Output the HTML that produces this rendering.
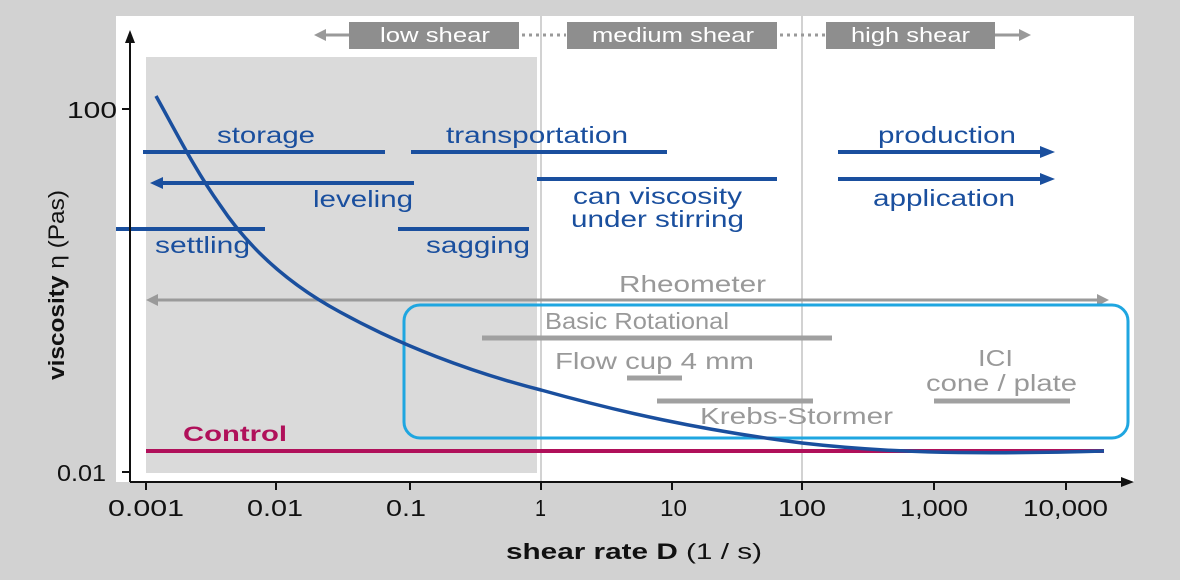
<!DOCTYPE html>
<html><head><meta charset="utf-8"><style>
html,body{margin:0;padding:0;background:#d2d2d2;}
svg{display:block;font-family:"Liberation Sans",sans-serif;}
</style></head><body>
<svg width="1180" height="580" viewBox="0 0 1180 580">
<rect x="0" y="0" width="1180" height="580" fill="#d2d2d2"/>
<rect x="116" y="16" width="1018" height="466" fill="#ffffff"/>
<rect x="146" y="57" width="391" height="416" fill="#dadada"/>
<line x1="541" y1="16" x2="541" y2="482" stroke="#c4c4c4" stroke-width="1.5"/>
<line x1="802" y1="16" x2="802" y2="482" stroke="#c4c4c4" stroke-width="1.5"/>

<line x1="322" y1="35" x2="349" y2="35" stroke="#999" stroke-width="3"/>
<polygon points="314,35 326,29 326,41" fill="#999"/>
<line x1="522" y1="35" x2="566" y2="35" stroke="#999" stroke-width="3" stroke-dasharray="3,4"/>
<line x1="780" y1="35" x2="825" y2="35" stroke="#999" stroke-width="3" stroke-dasharray="3,4"/>
<line x1="995" y1="35" x2="1022" y2="35" stroke="#999" stroke-width="3"/>
<polygon points="1031,35 1019,29 1019,41" fill="#999"/>
<rect x="349" y="22" width="170" height="27" fill="#8e8e8e"/>
<rect x="567" y="22" width="210" height="27" fill="#8e8e8e"/>
<rect x="826" y="22" width="169" height="27" fill="#8e8e8e"/>
<g fill="#fff" font-size="20" lengthAdjust="spacingAndGlyphs">
<text x="380" y="42" textLength="110" lengthAdjust="spacingAndGlyphs">low shear</text>
<text x="592" y="42" textLength="162" lengthAdjust="spacingAndGlyphs">medium shear</text>
<text x="851" y="42" textLength="119" lengthAdjust="spacingAndGlyphs">high shear</text>
</g>

<g stroke="#1a4f9e" stroke-width="4" fill="none">
<line x1="143" y1="152" x2="385" y2="152"/>
<line x1="411" y1="152" x2="667" y2="152"/>
<line x1="160" y1="183" x2="414" y2="183"/>
<line x1="537" y1="179" x2="777" y2="179"/>
<line x1="116" y1="229" x2="265" y2="229"/>
<line x1="398" y1="229" x2="529" y2="229"/>
<line x1="838" y1="152" x2="1042" y2="152"/>
<line x1="838" y1="179" x2="1042" y2="179"/>
</g>
<g fill="#1a4f9e">
<polygon points="150,183 163,177 163,189"/>
<polygon points="1055,152 1040,146 1040,158"/>
<polygon points="1055,179 1040,173 1040,185"/>
</g>
<g fill="#1a4f9e" font-size="23">
<text x="217" y="143" textLength="98" lengthAdjust="spacingAndGlyphs">storage</text>
<text x="446" y="143" textLength="182" lengthAdjust="spacingAndGlyphs">transportation</text>
<text x="313" y="207" textLength="100" lengthAdjust="spacingAndGlyphs">leveling</text>
<text x="573" y="204" textLength="169" lengthAdjust="spacingAndGlyphs">can viscosity</text>
<text x="571" y="227" textLength="173" lengthAdjust="spacingAndGlyphs">under stirring</text>
<text x="155" y="253" textLength="95" lengthAdjust="spacingAndGlyphs">settling</text>
<text x="426" y="253" textLength="104" lengthAdjust="spacingAndGlyphs">sagging</text>
<text x="878" y="143" textLength="138" lengthAdjust="spacingAndGlyphs">production</text>
<text x="873" y="206" textLength="142" lengthAdjust="spacingAndGlyphs">application</text>
</g>

<line x1="155" y1="300" x2="1100" y2="300" stroke="#9a9a9a" stroke-width="3"/>
<polygon points="146,300 158,294 158,306" fill="#9a9a9a"/>
<polygon points="1109,300 1097,294 1097,306" fill="#9a9a9a"/>
<g fill="#999" font-size="23">
<text x="619" y="292" textLength="147" lengthAdjust="spacingAndGlyphs">Rheometer</text>
<text x="545" y="329" textLength="184" lengthAdjust="spacingAndGlyphs">Basic Rotational</text>
<text x="555" y="369" textLength="199" lengthAdjust="spacingAndGlyphs">Flow cup 4 mm</text>
<text x="700" y="424" textLength="193" lengthAdjust="spacingAndGlyphs">Krebs-Stormer</text>
<text x="978" y="366" textLength="35" lengthAdjust="spacingAndGlyphs">ICI</text>
<text x="926" y="391" textLength="151" lengthAdjust="spacingAndGlyphs">cone / plate</text>
</g>
<g stroke="#a0a0a0" stroke-width="5">
<line x1="482" y1="338" x2="832" y2="338"/>
<line x1="627" y1="378" x2="682" y2="378"/>
<line x1="657" y1="401" x2="813" y2="401"/>
<line x1="934" y1="401" x2="1070" y2="401"/>
</g>
<rect x="404" y="305" width="724" height="133" rx="16" fill="none" stroke="#1fa6e0" stroke-width="3"/>

<line x1="146" y1="451" x2="1104" y2="451" stroke="#b0105a" stroke-width="4"/>
<text x="183" y="441" fill="#b0105a" font-size="21" font-weight="bold" textLength="104" lengthAdjust="spacingAndGlyphs">Control</text>

<path d="M156,96 C175,130 195,170 220,205 C250,250 290,285 340,312 C400,345 470,372 541,390 C620,412 700,430 802,443 C880,452 960,455 1104,451" fill="none" stroke="#1a4f9e" stroke-width="3.5"/>

<g stroke="#111" stroke-width="2">
<line x1="130" y1="482" x2="130" y2="40"/>
<line x1="130" y1="482" x2="1125" y2="482"/>
<line x1="122" y1="109" x2="130" y2="109"/>
<line x1="122" y1="472" x2="130" y2="472"/>
<line x1="146" y1="482" x2="146" y2="490"/>
<line x1="276" y1="482" x2="276" y2="490"/>
<line x1="410" y1="482" x2="410" y2="490"/>
<line x1="541" y1="482" x2="541" y2="490"/>
<line x1="672" y1="482" x2="672" y2="490"/>
<line x1="802" y1="482" x2="802" y2="490"/>
<line x1="934" y1="482" x2="934" y2="490"/>
<line x1="1066" y1="482" x2="1066" y2="490"/>
</g>
<polygon points="130,30 125,43 135,43" fill="#111"/>
<polygon points="1134,482 1121,477 1121,487" fill="#111"/>
<g fill="#111" font-size="23">
<text x="108" y="516" textLength="76" lengthAdjust="spacingAndGlyphs">0.001</text>
<text x="247" y="516" textLength="56" lengthAdjust="spacingAndGlyphs">0.01</text>
<text x="386" y="516" textLength="40" lengthAdjust="spacingAndGlyphs">0.1</text>
<text x="535" y="516" textLength="11" lengthAdjust="spacingAndGlyphs">1</text>
<text x="660" y="516" textLength="27" lengthAdjust="spacingAndGlyphs">10</text>
<text x="778" y="516" textLength="48" lengthAdjust="spacingAndGlyphs">100</text>
<text x="900" y="516" textLength="68" lengthAdjust="spacingAndGlyphs">1,000</text>
<text x="1023" y="516" textLength="85" lengthAdjust="spacingAndGlyphs">10,000</text>
<text x="67" y="118" textLength="50" lengthAdjust="spacingAndGlyphs">100</text>
<text x="57" y="481" textLength="49" lengthAdjust="spacingAndGlyphs">0.01</text>
</g>
<text x="506" y="559" fill="#111" font-size="22" textLength="256" lengthAdjust="spacingAndGlyphs"><tspan font-weight="bold">shear rate D</tspan> (1 / s)</text>
<text transform="translate(64,380) rotate(-90)" fill="#111" font-size="22" textLength="190" lengthAdjust="spacingAndGlyphs"><tspan font-weight="bold">viscosity</tspan> η (Pas)</text>
</svg>
</body></html>
